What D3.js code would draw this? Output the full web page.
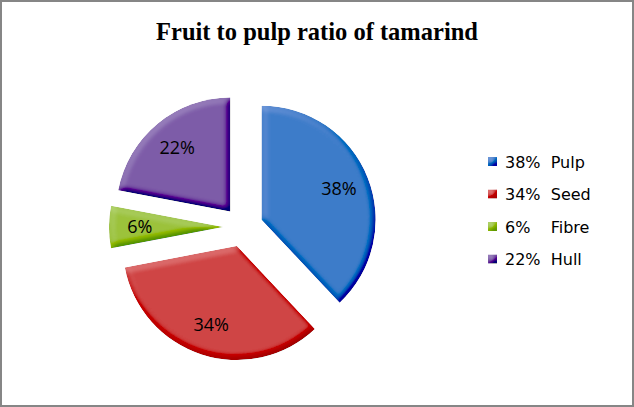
<!DOCTYPE html>
<html>
<head>
<meta charset="utf-8">
<script src="https://cdn.jsdelivr.net/npm/d3@7"></script>
<style>
  body { margin: 0; background: #fff; }
  svg { display: block; }
</style>
</head>
<body>
<div id="chart"></div>
<script>
// chart data
var title = "Fruit to pulp ratio of tamarind";
var parts = ["Pulp", "Seed", "Fibre", "Hull"];
var percents = [38, 34, 6, 22];
var legendNames = ["Pulp", "Seed", "  Fibre", "Hull"];
var colors = ["#3d7cc9", "#cf4444", "#9cc23c", "#7d5ba8"];

var width = 634, height = 407;
var cx = 243, cy = 227, radius = 114, explode = 20;

var svg = d3.select("#chart").append("svg")
	.attr("width", width)
	.attr("height", height);

// bevel-ish lighting filter
var defs = svg.append("defs");
var f = defs.append("filter").attr("id", "bevel")
	.attr("x", "-10%").attr("y", "-10%").attr("width", "120%").attr("height", "120%");
f.append("feGaussianBlur").attr("in", "SourceAlpha").attr("stdDeviation", 3).attr("result", "blur");
var dl = f.append("feDiffuseLighting").attr("in", "blur").attr("surfaceScale", 4)
	.attr("diffuseConstant", 1).attr("lighting-color", "#fff").attr("result", "light");
dl.append("feDistantLight").attr("azimuth", 235).attr("elevation", 50);
f.append("feComposite").attr("in", "SourceGraphic").attr("in2", "light")
	.attr("operator", "arithmetic").attr("k1", 0).attr("k2", 1).attr("k3", 0.4)
	.attr("k4", -0.4 * Math.sin(50 * Math.PI / 180)).attr("result", "lit");
f.append("feComposite").attr("in", "lit").attr("in2", "SourceAlpha").attr("operator", "in");

// frame
svg.append("rect")
	.attr("x", 1).attr("y", 1)
	.attr("width", width - 2).attr("height", height - 2)
	.attr("fill", "#fff")
	.attr("stroke", "#868686")
	.attr("stroke-width", 2);

svg.append("text")
	.attr("x", 317).attr("y", 40)
	.attr("text-anchor", "middle")
	.style("font-family", "'Liberation Serif', 'Times New Roman', serif")
	.style("font-weight", "bold")
	.style("font-size", "24.5px")
	.text(title);

var data = parts.map(function(p, i) { return { name: p, value: percents[i], color: colors[i], legend: legendNames[i] }; });

var pie = d3.pie().sort(null).value(function(d) { return d.value; });
var arc = d3.arc().innerRadius(0).outerRadius(radius);
var arcs = pie(data);

function offset(a, dist) {
	var mid = (a.startAngle + a.endAngle) / 2;
	return [Math.sin(mid) * dist, -Math.cos(mid) * dist];
}

var g = svg.append("g").attr("transform", "translate(" + cx + "," + cy + ")");

g.selectAll("path.slice")
	.data(arcs)
	.enter().append("path")
	.attr("class", "slice")
	.attr("d", arc)
	.attr("fill", function(d) { return d.data.color; })
	.attr("filter", "url(#bevel)")
	.attr("transform", function(d) {
		var o = offset(d, explode);
		return "translate(" + o[0] + "," + o[1] + ")";
	});

g.selectAll("text.lbl")
	.data(arcs)
	.enter().append("text")
	.attr("class", "lbl")
	.attr("x", function(d) { return offset(d, explode + radius * 0.73)[0]; })
	.attr("y", function(d) { return offset(d, explode + radius * 0.73)[1]; })
	.attr("dy", "0.35em")
	.attr("text-anchor", "middle")
	.style("font-family", "'Open Sans', 'Liberation Sans', sans-serif")
	.style("font-size", "18px")
	.attr("fill", "#000")
	.text(function(d) { return d.data.value + "%"; });

// legend
var legend = svg.append("g").attr("transform", "translate(488,157)");
var row = legend.selectAll("g")
	.data(data)
	.enter().append("g")
	.attr("transform", function(d, i) { return "translate(0," + (i * 32.5) + ")"; });

row.append("rect")
	.attr("width", 9).attr("height", 9)
	.attr("fill", function(d) { return d.color; })
	.attr("filter", "url(#bevel)");

row.append("text")
	.attr("x", 17).attr("y", 10.5)
	.style("font-family", "'DejaVu Sans', sans-serif")
	.style("font-size", "16px")
	.style("white-space", "pre")
	.attr("fill", "#000")
	.text(function(d) { return d.value + "%  " + d.legend; });
</script>
</body>
</html>
